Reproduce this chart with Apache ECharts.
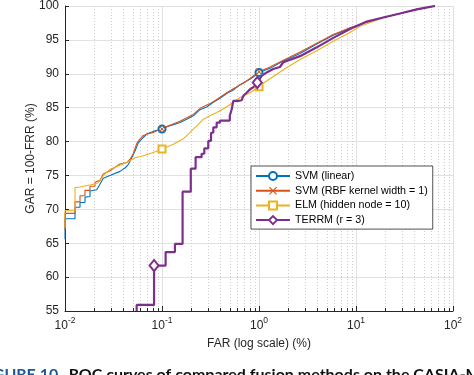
<!DOCTYPE html>
<html>
<head>
<meta charset="utf-8">
<script src="https://cdn.jsdelivr.net/npm/echarts@6/dist/echarts.min.js"></script>
<style>
    html, body { margin: 0; padding: 0; background: #fff; }
    #chart { width: 474px; height: 375px; }
</style>
</head>
<body>
<div id="chart"></div>
<script>
    // ROC curves, x = FAR (%), y = GAR (%)
    const seriesNames = ['SVM (linear)', 'SVM (RBF kernel width = 1)', 'ELM (hidden node = 10)', 'TERRM (r = 3)'];

    const svmLinear = [
        [0.01, 65.6], [0.01, 68.6], [0.01268, 68.6], [0.01268, 70.3], [0.01428, 70.3], [0.01428, 71.0],
        [0.01607, 71.0], [0.01607, 71.8], [0.0181, 71.9], [0.0181, 72.7], [0.02122, 72.9], [0.02294, 73.7],
        [0.02482, 74.6], [0.0291, 75.0], [0.03688, 75.6], [0.04153, 76.1], [0.04496, 76.6], [0.04872, 77.6],
        [0.05268, 78.6], [0.05697, 79.8], [0.06415, 80.6], [0.0695, 81.1], [0.0813, 81.5], [0.1, 81.85],
        [0.1117, 82.2], [0.1307, 82.5], [0.1533, 82.8], [0.1798, 83.3], [0.2103, 83.8], [0.2465, 84.7],
        [0.289, 85.1], [0.338, 85.8], [0.3963, 86.4], [0.4645, 87.1], [0.5433, 87.6], [0.6368, 88.4],
        [0.807, 89.2], [0.947, 89.9], [1.0, 90.2], [1.298, 90.8], [1.78, 91.9], [2.65, 93.0], [3.94, 94.4],
        [5.83, 95.7], [8.67, 96.7], [12.9, 97.6], [19.1, 98.3], [28.4, 98.9], [42.3, 99.5], [65.2, 100]
    ];
    const svmRbf = [
        [0.01, 67.0], [0.01, 69.4], [0.01268, 69.4], [0.01268, 71.1], [0.01428, 71.1], [0.01428, 72.0],
        [0.01607, 72.0], [0.01607, 72.8], [0.0181, 72.8], [0.0181, 73.4], [0.02038, 73.4], [0.02038, 74.0],
        [0.02294, 74.3], [0.02482, 75.2], [0.0291, 75.7], [0.03276, 76.2], [0.03688, 76.7], [0.04325, 76.9],
        [0.04679, 77.4], [0.05058, 78.2], [0.0548, 79.7], [0.05933, 80.4], [0.06415, 80.9], [0.0722, 81.15],
        [0.0813, 81.35], [0.0882, 81.6], [0.1, 81.85], [0.1208, 82.4], [0.1533, 83.0], [0.1798, 83.5],
        [0.2103, 84.0], [0.2465, 84.9], [0.3126, 85.6], [0.3664, 86.2], [0.4645, 87.2], [0.5433, 87.8],
        [0.689, 88.6], [0.807, 89.3], [1.0, 90.3], [1.298, 91.0], [1.78, 92.0], [2.65, 93.2], [3.94, 94.5],
        [5.83, 95.8], [8.67, 96.8], [12.9, 97.6], [19.1, 98.3], [28.4, 98.9], [42.3, 99.5], [65.2, 100]
    ];
    const elm = [
        [0.01, 67.2], [0.01, 69.8], [0.01268, 69.8], [0.01268, 73.2], [0.01428, 73.3], [0.0181, 73.6],
        [0.02122, 73.8], [0.02294, 74.2], [0.02482, 75.0], [0.0291, 75.9], [0.03276, 76.2], [0.03688, 76.5],
        [0.04325, 76.9], [0.04679, 77.2], [0.05268, 77.6], [0.06415, 77.9], [0.0783, 78.3], [0.0954, 78.75],
        [0.1, 78.9], [0.1307, 79.6], [0.1658, 80.4], [0.1944, 81.35], [0.2279, 82.3], [0.2667, 83.3],
        [0.3126, 83.8], [0.3664, 84.3], [0.4285, 84.8], [0.5433, 85.8], [0.6368, 86.5], [0.807, 87.2],
        [1.0, 88.1], [1.107, 88.6], [1.78, 90.6], [2.65, 92.1], [3.94, 93.4], [5.83, 94.8], [8.67, 96.1],
        [10.99, 97.0], [16.3, 97.9], [19.1, 98.3], [28.4, 98.9], [42.3, 99.5], [65.2, 100]
    ];
    const terrm = [
        [0.0548, 55], [0.0548, 55.9], [0.0828, 55.9], [0.0828, 61.7], [0.109, 61.7], [0.109, 63.7],
        [0.136, 63.7], [0.136, 64.9], [0.163, 64.9], [0.163, 72.6], [0.198, 72.6], [0.198, 76.0],
        [0.222, 76.0], [0.222, 77.7], [0.256, 77.7], [0.256, 78.2], [0.273, 78.2], [0.273, 79.0],
        [0.30, 79.0], [0.30, 80.1], [0.32, 80.1], [0.32, 81.3], [0.338, 81.3], [0.338, 82.1],
        [0.366, 82.1], [0.366, 82.8], [0.396, 82.8], [0.396, 83.1], [0.50, 83.1], [0.50, 83.8],
        [0.524, 83.8], [0.524, 84.8], [0.543, 84.8], [0.543, 86.0], [0.612, 86.0], [0.612, 86.1],
        [0.664, 86.1], [0.689, 86.75], [0.746, 87.2], [0.807, 87.7], [0.909, 88.2], [0.96, 88.7],
        [1.066, 89.7], [1.2, 90.2], [1.4, 90.7], [1.645, 91.0], [1.78, 91.7], [2.65, 92.6], [3.94, 93.9],
        [5.83, 95.3], [8.67, 96.6], [12.9, 97.7], [19.1, 98.3], [28.4, 98.9], [42.3, 99.5], [65.2, 100]
    ];

    // points that carry a marker
    const svmLinearMarks = [[0.1, 81.85], [1.0, 90.2]];
    const svmRbfMarks = [[0.1, 81.85], [1.0, 90.3]];
    const elmMarks = [[0.1, 78.9], [1.0, 88.1]];
    const terrmMarks = [[0.0828, 61.7], [0.96, 88.7]];

    const minorX = [0.02, 0.03, 0.04, 0.05, 0.06, 0.07, 0.08, 0.09,
        0.2, 0.3, 0.4, 0.5, 0.6, 0.7, 0.8, 0.9,
        2, 3, 4, 5, 6, 7, 8, 9,
        20, 30, 40, 50, 60, 70, 80, 90];

    const font = '"Liberation Sans", Arial, sans-serif';
    const axisColor = '#262626';

    function buildData (points, marks) {
        return points.map(function (p) {
            const isMark = marks.some(function (m) { return m[0] === p[0] && m[1] === p[1]; });
            return isMark ? { value: p } : { value: p, symbol: 'none' };
        });
    }

    function lineSeries (name, points, marks, color, symbol, symbolSize, width, borderWidth) {
        return {
            name: name,
            type: 'line',
            data: buildData(points, marks),
            showSymbol: true,
            symbol: symbol,
            symbolSize: symbolSize,
            lineStyle: { color: color, width: width },
            itemStyle: { color: color, borderWidth: borderWidth },
            emphasis: { disabled: true },
            z: 3
        };
    }

    const xMark = 'path://M1,0L5,4L9,0L10,1L6,5L10,9L9,10L5,6L1,10L0,9L4,5L0,1Z';

    const option = {
        animation: false,
        backgroundColor: '#fff',
        grid: { left: 65, right: 21, top: 5, bottom: 64 },
        legend: {
            orient: 'vertical',
            left: 251,
            top: 166,
            data: seriesNames,
            selectedMode: false,
            backgroundColor: '#fff',
            borderColor: axisColor,
            borderWidth: 0.8,
            padding: [3, 5, 2, 4],
            itemWidth: 34,
            itemHeight: 10,
            itemGap: 0.7,
            textStyle: { fontFamily: font, fontSize: 10.7, color: '#000', lineHeight: 14 },
            z: 10
        },
        xAxis: {
            type: 'log',
            logBase: 10,
            min: 0.01,
            max: 100,
            name: 'FAR (log scale) (%)',
            nameLocation: 'middle',
            nameGap: 27,
            nameMoveOverlap: false,
            nameTextStyle: { fontFamily: font, fontSize: 12, color: axisColor },
            axisLine: { show: true, onZero: false, lineStyle: { color: axisColor, width: 1 } },
            axisTick: { show: true, inside: true, length: 5, lineStyle: { color: axisColor } },
            axisLabel: {
                margin: 5,
                formatter: function (v) {
                    return '{b|10}{s|' + Math.round(Math.log10(v)) + '}';
                },
                rich: {
                    b: { fontFamily: font, fontSize: 12, color: axisColor, lineHeight: 16, verticalAlign: 'bottom' },
                    s: { fontFamily: font, fontSize: 8.5, color: axisColor, verticalAlign: 'top' }
                }
            },
            splitLine: { show: true, lineStyle: { color: '#e1e1e1', width: 1 } }
        },
        yAxis: {
            type: 'value',
            min: 55,
            max: 100,
            interval: 5,
            name: 'GAR = 100-FRR (%)',
            nameLocation: 'middle',
            nameGap: 28,
            nameMoveOverlap: false,
            nameTextStyle: { fontFamily: font, fontSize: 12, color: axisColor },
            axisLine: { show: true, onZero: false, lineStyle: { color: axisColor, width: 1 } },
            axisTick: { show: true, inside: true, length: 4, lineStyle: { color: axisColor } },
            axisLabel: { margin: 6, fontFamily: font, fontSize: 12, color: axisColor },
            splitLine: { show: true, lineStyle: { color: '#e1e1e1', width: 1 } }
        },
        graphic: [{
            type: 'text',
            left: -21,
            top: 367,
            style: {
                text: '{a|FIGURE 10.}  {b|ROC curves of compared fusion methods on the CASIA-MS database}',
                rich: {
                    a: { fontFamily: 'Lato, sans-serif', fontWeight: 'bold', fontSize: 16, fill: '#1a5a9a' },
                    b: { fontFamily: 'Lato, sans-serif', fontWeight: 'bold', fontSize: 16, fill: '#111' }
                }
            }
        }],
        series: [
            {
                type: 'custom',
                silent: true,
                z: 1,
                encode: { x: 0, y: 1 },
                data: minorX.map(function (v) { return [v, 55]; }),
                renderItem: function (params, api) {
                    const x = api.value(0);
                    const top = api.coord([x, 100]);
                    const bot = api.coord([x, 55]);
                    const px = Math.round(bot[0]) + 0.5;
                    return {
                        type: 'group',
                        children: [{
                            type: 'line',
                            shape: { x1: px, y1: top[1], x2: px, y2: bot[1] },
                            style: { stroke: '#cfcfcf', lineWidth: 1, lineDash: [1, 2] }
                        }, {
                            type: 'line',
                            shape: { x1: px, y1: bot[1], x2: px, y2: bot[1] - 3 },
                            style: { stroke: axisColor, lineWidth: 1 }
                        }]
                    };
                }
            },
            lineSeries(seriesNames[0], svmLinear, svmLinearMarks, '#0072BD', 'emptyCircle', 7, 1.1, 1),
            lineSeries(seriesNames[1], svmRbf, svmRbfMarks, '#D95319', xMark, 7, 1.1, 0),
            lineSeries(seriesNames[2], elm, elmMarks, '#EDB120', 'emptyRect', 7, 1.1, 1),
            lineSeries(seriesNames[3], terrm, terrmMarks, '#7E2F8E', 'emptyDiamond', [9, 11], 2.2, 2)
        ]
    };

    const chart = echarts.init(document.getElementById('chart'));
    chart.setOption(option);
    window.addEventListener('resize', function () {
        chart.resize();
    });
</script>
</body>
</html>
